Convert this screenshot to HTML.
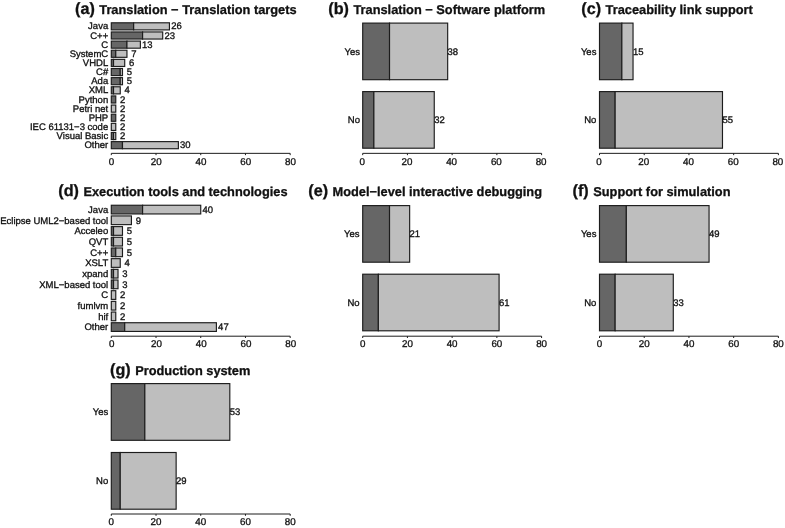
<!DOCTYPE html>
<html><head><meta charset="utf-8"><title>Figure</title>
<style>
html,body{margin:0;padding:0;background:#fff;}
body{width:785px;height:528px;overflow:hidden;}
svg{display:block;font-family:"Liberation Sans", Arial, Helvetica, sans-serif;text-rendering:geometricPrecision;}
</style></head><body>
<svg width="785" height="528" viewBox="0 0 785 528">
<defs><filter id="soft" x="0" y="0" width="785" height="528" filterUnits="userSpaceOnUse" color-interpolation-filters="sRGB"><feGaussianBlur stdDeviation="0.45"/></filter></defs>
<rect x="0" y="0" width="785" height="528" fill="#ffffff"/>
<g filter="url(#soft)">
<rect x="0" y="0" width="785" height="528" fill="#ffffff"/>
<rect x="111.30" y="22.80" width="22.36" height="7.10" fill="#666666" stroke="#1c1c1c" stroke-width="1.15"/>
<rect x="133.66" y="22.80" width="35.78" height="7.10" fill="#bebebe" stroke="#1c1c1c" stroke-width="1.15"/>
<text x="108.20" y="29.45" font-size="9.5" text-anchor="end" fill="#111111" stroke="#111111" stroke-width="0.32">Java</text>
<text x="176.44" y="29.45" font-size="9.5" text-anchor="middle" fill="#111111" stroke="#111111" stroke-width="0.32">26</text>
<rect x="111.30" y="31.94" width="31.30" height="7.10" fill="#666666" stroke="#1c1c1c" stroke-width="1.15"/>
<rect x="142.60" y="31.94" width="20.12" height="7.10" fill="#bebebe" stroke="#1c1c1c" stroke-width="1.15"/>
<text x="108.20" y="38.59" font-size="9.5" text-anchor="end" fill="#111111" stroke="#111111" stroke-width="0.32">C++</text>
<text x="169.73" y="38.59" font-size="9.5" text-anchor="middle" fill="#111111" stroke="#111111" stroke-width="0.32">23</text>
<rect x="111.30" y="41.08" width="15.65" height="7.10" fill="#666666" stroke="#1c1c1c" stroke-width="1.15"/>
<rect x="126.95" y="41.08" width="13.42" height="7.10" fill="#bebebe" stroke="#1c1c1c" stroke-width="1.15"/>
<text x="108.20" y="47.73" font-size="9.5" text-anchor="end" fill="#111111" stroke="#111111" stroke-width="0.32">C</text>
<text x="147.37" y="47.73" font-size="9.5" text-anchor="middle" fill="#111111" stroke="#111111" stroke-width="0.32">13</text>
<rect x="111.30" y="50.22" width="4.47" height="7.10" fill="#666666" stroke="#1c1c1c" stroke-width="1.15"/>
<rect x="115.77" y="50.22" width="11.18" height="7.10" fill="#bebebe" stroke="#1c1c1c" stroke-width="1.15"/>
<text x="108.20" y="56.87" font-size="9.5" text-anchor="end" fill="#111111" stroke="#111111" stroke-width="0.32">SystemC</text>
<text x="133.95" y="56.87" font-size="9.5" text-anchor="middle" fill="#111111" stroke="#111111" stroke-width="0.32">7</text>
<rect x="111.30" y="59.36" width="2.24" height="7.10" fill="#666666" stroke="#1c1c1c" stroke-width="1.15"/>
<rect x="113.54" y="59.36" width="11.18" height="7.10" fill="#bebebe" stroke="#1c1c1c" stroke-width="1.15"/>
<text x="108.20" y="66.01" font-size="9.5" text-anchor="end" fill="#111111" stroke="#111111" stroke-width="0.32">VHDL</text>
<text x="131.72" y="66.01" font-size="9.5" text-anchor="middle" fill="#111111" stroke="#111111" stroke-width="0.32">6</text>
<rect x="111.30" y="68.50" width="8.94" height="7.10" fill="#666666" stroke="#1c1c1c" stroke-width="1.15"/>
<rect x="120.24" y="68.50" width="2.24" height="7.10" fill="#bebebe" stroke="#1c1c1c" stroke-width="1.15"/>
<text x="108.20" y="75.15" font-size="9.5" text-anchor="end" fill="#111111" stroke="#111111" stroke-width="0.32">C#</text>
<text x="129.48" y="75.15" font-size="9.5" text-anchor="middle" fill="#111111" stroke="#111111" stroke-width="0.32">5</text>
<rect x="111.30" y="77.64" width="8.94" height="7.10" fill="#666666" stroke="#1c1c1c" stroke-width="1.15"/>
<rect x="120.24" y="77.64" width="2.24" height="7.10" fill="#bebebe" stroke="#1c1c1c" stroke-width="1.15"/>
<text x="108.20" y="84.29" font-size="9.5" text-anchor="end" fill="#111111" stroke="#111111" stroke-width="0.32">Ada</text>
<text x="129.48" y="84.29" font-size="9.5" text-anchor="middle" fill="#111111" stroke="#111111" stroke-width="0.32">5</text>
<rect x="111.30" y="86.78" width="2.24" height="7.10" fill="#666666" stroke="#1c1c1c" stroke-width="1.15"/>
<rect x="113.54" y="86.78" width="6.71" height="7.10" fill="#bebebe" stroke="#1c1c1c" stroke-width="1.15"/>
<text x="108.20" y="93.43" font-size="9.5" text-anchor="end" fill="#111111" stroke="#111111" stroke-width="0.32">XML</text>
<text x="127.24" y="93.43" font-size="9.5" text-anchor="middle" fill="#111111" stroke="#111111" stroke-width="0.32">4</text>
<rect x="111.30" y="95.92" width="4.47" height="7.10" fill="#666666" stroke="#1c1c1c" stroke-width="1.15"/>
<text x="108.20" y="102.57" font-size="9.5" text-anchor="end" fill="#111111" stroke="#111111" stroke-width="0.32">Python</text>
<text x="122.77" y="102.57" font-size="9.5" text-anchor="middle" fill="#111111" stroke="#111111" stroke-width="0.32">2</text>
<rect x="111.30" y="105.06" width="4.47" height="7.10" fill="#bebebe" stroke="#1c1c1c" stroke-width="1.15"/>
<text x="108.20" y="111.71" font-size="9.5" text-anchor="end" fill="#111111" stroke="#111111" stroke-width="0.32">Petri net</text>
<text x="122.77" y="111.71" font-size="9.5" text-anchor="middle" fill="#111111" stroke="#111111" stroke-width="0.32">2</text>
<rect x="111.30" y="114.20" width="4.47" height="7.10" fill="#666666" stroke="#1c1c1c" stroke-width="1.15"/>
<text x="108.20" y="120.85" font-size="9.5" text-anchor="end" fill="#111111" stroke="#111111" stroke-width="0.32">PHP</text>
<text x="122.77" y="120.85" font-size="9.5" text-anchor="middle" fill="#111111" stroke="#111111" stroke-width="0.32">2</text>
<rect x="111.30" y="123.34" width="4.47" height="7.10" fill="#bebebe" stroke="#1c1c1c" stroke-width="1.15"/>
<text x="108.20" y="129.99" font-size="9.5" text-anchor="end" fill="#111111" stroke="#111111" stroke-width="0.32">IEC 61131−3 code</text>
<text x="122.77" y="129.99" font-size="9.5" text-anchor="middle" fill="#111111" stroke="#111111" stroke-width="0.32">2</text>
<rect x="111.30" y="132.48" width="2.24" height="7.10" fill="#666666" stroke="#1c1c1c" stroke-width="1.15"/>
<rect x="113.54" y="132.48" width="2.24" height="7.10" fill="#bebebe" stroke="#1c1c1c" stroke-width="1.15"/>
<text x="108.20" y="139.13" font-size="9.5" text-anchor="end" fill="#111111" stroke="#111111" stroke-width="0.32">Visual Basic</text>
<text x="122.77" y="139.13" font-size="9.5" text-anchor="middle" fill="#111111" stroke="#111111" stroke-width="0.32">2</text>
<rect x="111.30" y="141.62" width="11.18" height="7.10" fill="#666666" stroke="#1c1c1c" stroke-width="1.15"/>
<rect x="122.48" y="141.62" width="55.90" height="7.10" fill="#bebebe" stroke="#1c1c1c" stroke-width="1.15"/>
<text x="108.20" y="148.27" font-size="9.5" text-anchor="end" fill="#111111" stroke="#111111" stroke-width="0.32">Other</text>
<text x="185.38" y="148.27" font-size="9.5" text-anchor="middle" fill="#111111" stroke="#111111" stroke-width="0.32">30</text>
<path d="M111.30 155.15V153.35H290.18V155.15" fill="none" stroke="#1c1c1c" stroke-width="1"/>
<path d="M156.02 153.35v1.8" stroke="#1c1c1c" stroke-width="1"/>
<path d="M200.74 153.35v1.8" stroke="#1c1c1c" stroke-width="1"/>
<path d="M245.46 153.35v1.8" stroke="#1c1c1c" stroke-width="1"/>
<text x="111.60" y="164.85" font-size="9.8" text-anchor="middle" fill="#111111" stroke="#111111" stroke-width="0.32">0</text>
<text x="156.32" y="164.85" font-size="9.8" text-anchor="middle" fill="#111111" stroke="#111111" stroke-width="0.32">20</text>
<text x="201.04" y="164.85" font-size="9.8" text-anchor="middle" fill="#111111" stroke="#111111" stroke-width="0.32">40</text>
<text x="245.76" y="164.85" font-size="9.8" text-anchor="middle" fill="#111111" stroke="#111111" stroke-width="0.32">60</text>
<text x="290.48" y="164.85" font-size="9.8" text-anchor="middle" fill="#111111" stroke="#111111" stroke-width="0.32">80</text>
<text x="75.00" y="13.50" font-weight="bold" fill="#111" stroke="#111" stroke-width="0.3" xml:space="preserve"><tspan font-size="16.2">(a) </tspan><tspan font-size="12.8">Translation − Translation targets</tspan></text>
<rect x="362.70" y="23.10" width="26.83" height="56.60" fill="#666666" stroke="#1c1c1c" stroke-width="1.15"/>
<rect x="389.53" y="23.10" width="58.14" height="56.60" fill="#bebebe" stroke="#1c1c1c" stroke-width="1.15"/>
<text x="360.00" y="54.90" font-size="9.5" text-anchor="end" fill="#111111" stroke="#111111" stroke-width="0.32">Yes</text>
<text x="452.87" y="54.90" font-size="9.5" text-anchor="middle" fill="#111111" stroke="#111111" stroke-width="0.32">38</text>
<rect x="362.70" y="91.60" width="11.18" height="56.60" fill="#666666" stroke="#1c1c1c" stroke-width="1.15"/>
<rect x="373.88" y="91.60" width="60.37" height="56.60" fill="#bebebe" stroke="#1c1c1c" stroke-width="1.15"/>
<text x="360.00" y="123.40" font-size="9.5" text-anchor="end" fill="#111111" stroke="#111111" stroke-width="0.32">No</text>
<text x="439.45" y="123.40" font-size="9.5" text-anchor="middle" fill="#111111" stroke="#111111" stroke-width="0.32">32</text>
<path d="M362.70 155.15V153.35H541.58V155.15" fill="none" stroke="#1c1c1c" stroke-width="1"/>
<path d="M407.42 153.35v1.8" stroke="#1c1c1c" stroke-width="1"/>
<path d="M452.14 153.35v1.8" stroke="#1c1c1c" stroke-width="1"/>
<path d="M496.86 153.35v1.8" stroke="#1c1c1c" stroke-width="1"/>
<text x="362.20" y="164.85" font-size="9.8" text-anchor="middle" fill="#111111" stroke="#111111" stroke-width="0.32">0</text>
<text x="406.92" y="164.85" font-size="9.8" text-anchor="middle" fill="#111111" stroke="#111111" stroke-width="0.32">20</text>
<text x="451.64" y="164.85" font-size="9.8" text-anchor="middle" fill="#111111" stroke="#111111" stroke-width="0.32">40</text>
<text x="496.36" y="164.85" font-size="9.8" text-anchor="middle" fill="#111111" stroke="#111111" stroke-width="0.32">60</text>
<text x="541.08" y="164.85" font-size="9.8" text-anchor="middle" fill="#111111" stroke="#111111" stroke-width="0.32">80</text>
<text x="328.30" y="13.50" font-weight="bold" fill="#111" stroke="#111" stroke-width="0.3" xml:space="preserve"><tspan font-size="16.2">(b) </tspan><tspan font-size="12.8">Translation − Software platform</tspan></text>
<rect x="599.50" y="23.10" width="22.36" height="56.60" fill="#666666" stroke="#1c1c1c" stroke-width="1.15"/>
<rect x="621.86" y="23.10" width="11.18" height="56.60" fill="#bebebe" stroke="#1c1c1c" stroke-width="1.15"/>
<text x="596.40" y="54.70" font-size="9.5" text-anchor="end" fill="#111111" stroke="#111111" stroke-width="0.32">Yes</text>
<text x="638.24" y="54.70" font-size="9.5" text-anchor="middle" fill="#111111" stroke="#111111" stroke-width="0.32">15</text>
<rect x="599.50" y="91.60" width="15.65" height="56.60" fill="#666666" stroke="#1c1c1c" stroke-width="1.15"/>
<rect x="615.15" y="91.60" width="107.33" height="56.60" fill="#bebebe" stroke="#1c1c1c" stroke-width="1.15"/>
<text x="596.40" y="123.20" font-size="9.5" text-anchor="end" fill="#111111" stroke="#111111" stroke-width="0.32">No</text>
<text x="727.68" y="123.20" font-size="9.5" text-anchor="middle" fill="#111111" stroke="#111111" stroke-width="0.32">55</text>
<path d="M599.50 155.15V153.35H778.38V155.15" fill="none" stroke="#1c1c1c" stroke-width="1"/>
<path d="M644.22 153.35v1.8" stroke="#1c1c1c" stroke-width="1"/>
<path d="M688.94 153.35v1.8" stroke="#1c1c1c" stroke-width="1"/>
<path d="M733.66 153.35v1.8" stroke="#1c1c1c" stroke-width="1"/>
<text x="599.00" y="164.85" font-size="9.8" text-anchor="middle" fill="#111111" stroke="#111111" stroke-width="0.32">0</text>
<text x="643.72" y="164.85" font-size="9.8" text-anchor="middle" fill="#111111" stroke="#111111" stroke-width="0.32">20</text>
<text x="688.44" y="164.85" font-size="9.8" text-anchor="middle" fill="#111111" stroke="#111111" stroke-width="0.32">40</text>
<text x="733.16" y="164.85" font-size="9.8" text-anchor="middle" fill="#111111" stroke="#111111" stroke-width="0.32">60</text>
<text x="777.88" y="164.85" font-size="9.8" text-anchor="middle" fill="#111111" stroke="#111111" stroke-width="0.32">80</text>
<text x="581.30" y="13.50" font-weight="bold" fill="#111" stroke="#111" stroke-width="0.3" xml:space="preserve"><tspan font-size="16.2">(c) </tspan><tspan font-size="12.8">Traceability link support</tspan></text>
<rect x="111.30" y="205.25" width="31.30" height="8.70" fill="#666666" stroke="#1c1c1c" stroke-width="1.15"/>
<rect x="142.60" y="205.25" width="58.14" height="8.70" fill="#bebebe" stroke="#1c1c1c" stroke-width="1.15"/>
<text x="108.20" y="213.00" font-size="9.5" text-anchor="end" fill="#111111" stroke="#111111" stroke-width="0.32">Java</text>
<text x="207.74" y="213.00" font-size="9.5" text-anchor="middle" fill="#111111" stroke="#111111" stroke-width="0.32">40</text>
<rect x="111.30" y="215.93" width="20.12" height="8.70" fill="#bebebe" stroke="#1c1c1c" stroke-width="1.15"/>
<text x="108.20" y="223.68" font-size="9.5" text-anchor="end" fill="#111111" stroke="#111111" stroke-width="0.32">Eclipse UML2−based tool</text>
<text x="138.42" y="223.68" font-size="9.5" text-anchor="middle" fill="#111111" stroke="#111111" stroke-width="0.32">9</text>
<rect x="111.30" y="226.61" width="2.24" height="8.70" fill="#666666" stroke="#1c1c1c" stroke-width="1.15"/>
<rect x="113.54" y="226.61" width="8.94" height="8.70" fill="#bebebe" stroke="#1c1c1c" stroke-width="1.15"/>
<text x="108.20" y="234.36" font-size="9.5" text-anchor="end" fill="#111111" stroke="#111111" stroke-width="0.32">Acceleo</text>
<text x="129.48" y="234.36" font-size="9.5" text-anchor="middle" fill="#111111" stroke="#111111" stroke-width="0.32">5</text>
<rect x="111.30" y="237.29" width="2.24" height="8.70" fill="#666666" stroke="#1c1c1c" stroke-width="1.15"/>
<rect x="113.54" y="237.29" width="8.94" height="8.70" fill="#bebebe" stroke="#1c1c1c" stroke-width="1.15"/>
<text x="108.20" y="245.04" font-size="9.5" text-anchor="end" fill="#111111" stroke="#111111" stroke-width="0.32">QVT</text>
<text x="129.48" y="245.04" font-size="9.5" text-anchor="middle" fill="#111111" stroke="#111111" stroke-width="0.32">5</text>
<rect x="111.30" y="247.97" width="4.47" height="8.70" fill="#666666" stroke="#1c1c1c" stroke-width="1.15"/>
<rect x="115.77" y="247.97" width="6.71" height="8.70" fill="#bebebe" stroke="#1c1c1c" stroke-width="1.15"/>
<text x="108.20" y="255.72" font-size="9.5" text-anchor="end" fill="#111111" stroke="#111111" stroke-width="0.32">C++</text>
<text x="129.48" y="255.72" font-size="9.5" text-anchor="middle" fill="#111111" stroke="#111111" stroke-width="0.32">5</text>
<rect x="111.30" y="258.65" width="8.94" height="8.70" fill="#bebebe" stroke="#1c1c1c" stroke-width="1.15"/>
<text x="108.20" y="266.40" font-size="9.5" text-anchor="end" fill="#111111" stroke="#111111" stroke-width="0.32">XSLT</text>
<text x="127.24" y="266.40" font-size="9.5" text-anchor="middle" fill="#111111" stroke="#111111" stroke-width="0.32">4</text>
<rect x="111.30" y="269.33" width="2.24" height="8.70" fill="#666666" stroke="#1c1c1c" stroke-width="1.15"/>
<rect x="113.54" y="269.33" width="4.47" height="8.70" fill="#bebebe" stroke="#1c1c1c" stroke-width="1.15"/>
<text x="108.20" y="277.08" font-size="9.5" text-anchor="end" fill="#111111" stroke="#111111" stroke-width="0.32">xpand</text>
<text x="125.01" y="277.08" font-size="9.5" text-anchor="middle" fill="#111111" stroke="#111111" stroke-width="0.32">3</text>
<rect x="111.30" y="280.01" width="2.24" height="8.70" fill="#666666" stroke="#1c1c1c" stroke-width="1.15"/>
<rect x="113.54" y="280.01" width="4.47" height="8.70" fill="#bebebe" stroke="#1c1c1c" stroke-width="1.15"/>
<text x="108.20" y="287.76" font-size="9.5" text-anchor="end" fill="#111111" stroke="#111111" stroke-width="0.32">XML−based tool</text>
<text x="125.01" y="287.76" font-size="9.5" text-anchor="middle" fill="#111111" stroke="#111111" stroke-width="0.32">3</text>
<rect x="111.30" y="290.69" width="4.47" height="8.70" fill="#bebebe" stroke="#1c1c1c" stroke-width="1.15"/>
<text x="108.20" y="298.44" font-size="9.5" text-anchor="end" fill="#111111" stroke="#111111" stroke-width="0.32">C</text>
<text x="122.77" y="298.44" font-size="9.5" text-anchor="middle" fill="#111111" stroke="#111111" stroke-width="0.32">2</text>
<rect x="111.30" y="301.37" width="4.47" height="8.70" fill="#bebebe" stroke="#1c1c1c" stroke-width="1.15"/>
<text x="108.20" y="309.12" font-size="9.5" text-anchor="end" fill="#111111" stroke="#111111" stroke-width="0.32">fumlvm</text>
<text x="122.77" y="309.12" font-size="9.5" text-anchor="middle" fill="#111111" stroke="#111111" stroke-width="0.32">2</text>
<rect x="111.30" y="312.05" width="4.47" height="8.70" fill="#bebebe" stroke="#1c1c1c" stroke-width="1.15"/>
<text x="108.20" y="319.80" font-size="9.5" text-anchor="end" fill="#111111" stroke="#111111" stroke-width="0.32">hif</text>
<text x="122.77" y="319.80" font-size="9.5" text-anchor="middle" fill="#111111" stroke="#111111" stroke-width="0.32">2</text>
<rect x="111.30" y="322.73" width="13.42" height="8.70" fill="#666666" stroke="#1c1c1c" stroke-width="1.15"/>
<rect x="124.72" y="322.73" width="91.68" height="8.70" fill="#bebebe" stroke="#1c1c1c" stroke-width="1.15"/>
<text x="108.20" y="330.48" font-size="9.5" text-anchor="end" fill="#111111" stroke="#111111" stroke-width="0.32">Other</text>
<text x="223.39" y="330.48" font-size="9.5" text-anchor="middle" fill="#111111" stroke="#111111" stroke-width="0.32">47</text>
<path d="M111.30 338.00V336.20H290.18V338.00" fill="none" stroke="#1c1c1c" stroke-width="1"/>
<path d="M156.02 336.20v1.8" stroke="#1c1c1c" stroke-width="1"/>
<path d="M200.74 336.20v1.8" stroke="#1c1c1c" stroke-width="1"/>
<path d="M245.46 336.20v1.8" stroke="#1c1c1c" stroke-width="1"/>
<text x="111.80" y="347.20" font-size="9.8" text-anchor="middle" fill="#111111" stroke="#111111" stroke-width="0.32">0</text>
<text x="156.52" y="347.20" font-size="9.8" text-anchor="middle" fill="#111111" stroke="#111111" stroke-width="0.32">20</text>
<text x="201.24" y="347.20" font-size="9.8" text-anchor="middle" fill="#111111" stroke="#111111" stroke-width="0.32">40</text>
<text x="245.96" y="347.20" font-size="9.8" text-anchor="middle" fill="#111111" stroke="#111111" stroke-width="0.32">60</text>
<text x="290.68" y="347.20" font-size="9.8" text-anchor="middle" fill="#111111" stroke="#111111" stroke-width="0.32">80</text>
<text x="58.30" y="196.30" font-weight="bold" fill="#111" stroke="#111" stroke-width="0.3" xml:space="preserve"><tspan font-size="16.2">(d) </tspan><tspan font-size="12.8">Execution tools and technologies</tspan></text>
<rect x="362.70" y="205.60" width="26.83" height="56.60" fill="#666666" stroke="#1c1c1c" stroke-width="1.15"/>
<rect x="389.53" y="205.60" width="20.12" height="56.60" fill="#bebebe" stroke="#1c1c1c" stroke-width="1.15"/>
<text x="359.60" y="237.20" font-size="9.5" text-anchor="end" fill="#111111" stroke="#111111" stroke-width="0.32">Yes</text>
<text x="414.86" y="237.20" font-size="9.5" text-anchor="middle" fill="#111111" stroke="#111111" stroke-width="0.32">21</text>
<rect x="362.70" y="274.20" width="15.65" height="56.60" fill="#666666" stroke="#1c1c1c" stroke-width="1.15"/>
<rect x="378.35" y="274.20" width="120.74" height="56.60" fill="#bebebe" stroke="#1c1c1c" stroke-width="1.15"/>
<text x="359.60" y="305.80" font-size="9.5" text-anchor="end" fill="#111111" stroke="#111111" stroke-width="0.32">No</text>
<text x="504.30" y="305.80" font-size="9.5" text-anchor="middle" fill="#111111" stroke="#111111" stroke-width="0.32">61</text>
<path d="M362.70 338.00V336.20H541.58V338.00" fill="none" stroke="#1c1c1c" stroke-width="1"/>
<path d="M407.42 336.20v1.8" stroke="#1c1c1c" stroke-width="1"/>
<path d="M452.14 336.20v1.8" stroke="#1c1c1c" stroke-width="1"/>
<path d="M496.86 336.20v1.8" stroke="#1c1c1c" stroke-width="1"/>
<text x="362.70" y="347.20" font-size="9.8" text-anchor="middle" fill="#111111" stroke="#111111" stroke-width="0.32">0</text>
<text x="407.42" y="347.20" font-size="9.8" text-anchor="middle" fill="#111111" stroke="#111111" stroke-width="0.32">20</text>
<text x="452.14" y="347.20" font-size="9.8" text-anchor="middle" fill="#111111" stroke="#111111" stroke-width="0.32">40</text>
<text x="496.86" y="347.20" font-size="9.8" text-anchor="middle" fill="#111111" stroke="#111111" stroke-width="0.32">60</text>
<text x="541.58" y="347.20" font-size="9.8" text-anchor="middle" fill="#111111" stroke="#111111" stroke-width="0.32">80</text>
<text x="308.30" y="196.30" font-weight="bold" fill="#111" stroke="#111" stroke-width="0.3" xml:space="preserve"><tspan font-size="16.2">(e) </tspan><tspan font-size="12.8">Model−level interactive debugging</tspan></text>
<rect x="599.50" y="205.60" width="26.83" height="56.60" fill="#666666" stroke="#1c1c1c" stroke-width="1.15"/>
<rect x="626.33" y="205.60" width="82.73" height="56.60" fill="#bebebe" stroke="#1c1c1c" stroke-width="1.15"/>
<text x="596.40" y="237.20" font-size="9.5" text-anchor="end" fill="#111111" stroke="#111111" stroke-width="0.32">Yes</text>
<text x="714.26" y="237.20" font-size="9.5" text-anchor="middle" fill="#111111" stroke="#111111" stroke-width="0.32">49</text>
<rect x="599.50" y="274.20" width="15.65" height="56.60" fill="#666666" stroke="#1c1c1c" stroke-width="1.15"/>
<rect x="615.15" y="274.20" width="58.14" height="56.60" fill="#bebebe" stroke="#1c1c1c" stroke-width="1.15"/>
<text x="596.40" y="305.80" font-size="9.5" text-anchor="end" fill="#111111" stroke="#111111" stroke-width="0.32">No</text>
<text x="678.49" y="305.80" font-size="9.5" text-anchor="middle" fill="#111111" stroke="#111111" stroke-width="0.32">33</text>
<path d="M599.50 338.00V336.20H778.38V338.00" fill="none" stroke="#1c1c1c" stroke-width="1"/>
<path d="M644.22 336.20v1.8" stroke="#1c1c1c" stroke-width="1"/>
<path d="M688.94 336.20v1.8" stroke="#1c1c1c" stroke-width="1"/>
<path d="M733.66 336.20v1.8" stroke="#1c1c1c" stroke-width="1"/>
<text x="599.50" y="347.20" font-size="9.8" text-anchor="middle" fill="#111111" stroke="#111111" stroke-width="0.32">0</text>
<text x="644.22" y="347.20" font-size="9.8" text-anchor="middle" fill="#111111" stroke="#111111" stroke-width="0.32">20</text>
<text x="688.94" y="347.20" font-size="9.8" text-anchor="middle" fill="#111111" stroke="#111111" stroke-width="0.32">40</text>
<text x="733.66" y="347.20" font-size="9.8" text-anchor="middle" fill="#111111" stroke="#111111" stroke-width="0.32">60</text>
<text x="778.38" y="347.20" font-size="9.8" text-anchor="middle" fill="#111111" stroke="#111111" stroke-width="0.32">80</text>
<text x="572.60" y="196.30" font-weight="bold" fill="#111" stroke="#111" stroke-width="0.3" xml:space="preserve"><tspan font-size="16.2">(f) </tspan><tspan font-size="12.8">Support for simulation</tspan></text>
<rect x="111.30" y="383.60" width="33.54" height="56.70" fill="#666666" stroke="#1c1c1c" stroke-width="1.15"/>
<rect x="144.84" y="383.60" width="84.97" height="56.70" fill="#bebebe" stroke="#1c1c1c" stroke-width="1.15"/>
<text x="108.20" y="415.25" font-size="9.5" text-anchor="end" fill="#111111" stroke="#111111" stroke-width="0.32">Yes</text>
<text x="235.01" y="415.25" font-size="9.5" text-anchor="middle" fill="#111111" stroke="#111111" stroke-width="0.32">53</text>
<rect x="111.30" y="452.50" width="8.94" height="56.70" fill="#666666" stroke="#1c1c1c" stroke-width="1.15"/>
<rect x="120.24" y="452.50" width="55.90" height="56.70" fill="#bebebe" stroke="#1c1c1c" stroke-width="1.15"/>
<text x="108.20" y="484.15" font-size="9.5" text-anchor="end" fill="#111111" stroke="#111111" stroke-width="0.32">No</text>
<text x="181.34" y="484.15" font-size="9.5" text-anchor="middle" fill="#111111" stroke="#111111" stroke-width="0.32">29</text>
<path d="M111.30 515.80V514.00H290.18V515.80" fill="none" stroke="#1c1c1c" stroke-width="1"/>
<path d="M156.02 514.00v1.8" stroke="#1c1c1c" stroke-width="1"/>
<path d="M200.74 514.00v1.8" stroke="#1c1c1c" stroke-width="1"/>
<path d="M245.46 514.00v1.8" stroke="#1c1c1c" stroke-width="1"/>
<text x="111.30" y="525.00" font-size="9.8" text-anchor="middle" fill="#111111" stroke="#111111" stroke-width="0.32">0</text>
<text x="156.02" y="525.00" font-size="9.8" text-anchor="middle" fill="#111111" stroke="#111111" stroke-width="0.32">20</text>
<text x="200.74" y="525.00" font-size="9.8" text-anchor="middle" fill="#111111" stroke="#111111" stroke-width="0.32">40</text>
<text x="245.46" y="525.00" font-size="9.8" text-anchor="middle" fill="#111111" stroke="#111111" stroke-width="0.32">60</text>
<text x="290.18" y="525.00" font-size="9.8" text-anchor="middle" fill="#111111" stroke="#111111" stroke-width="0.32">80</text>
<text x="110.00" y="375.00" font-weight="bold" fill="#111" stroke="#111" stroke-width="0.3" xml:space="preserve"><tspan font-size="16.2">(g) </tspan><tspan font-size="12.8">Production system</tspan></text>
</g>
</svg>
</body></html>
